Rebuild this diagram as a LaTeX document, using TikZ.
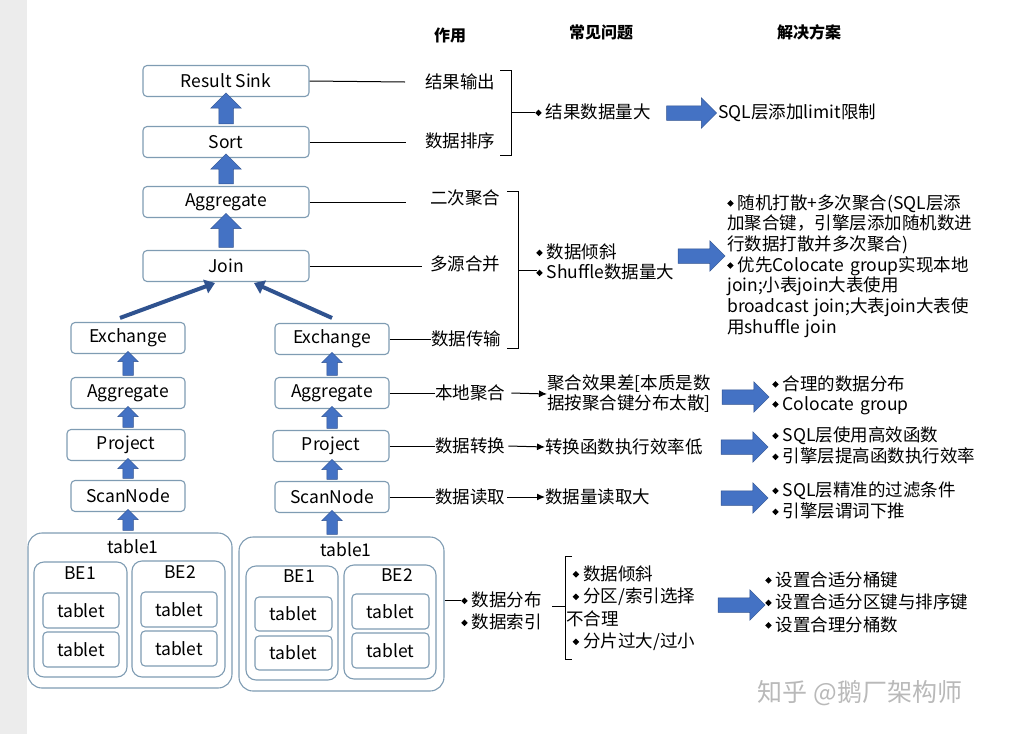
\documentclass[tikz,border=0pt]{standalone}
\usepackage{fontspec}
\setmainfont{Noto Sans CJK SC}
\usetikzlibrary{shapes.arrows,arrows.meta}
\definecolor{bx}{HTML}{7F9CB3}
\definecolor{ab}{HTML}{4472C4}
\definecolor{abd}{HTML}{2F528F}
\newcommand\dmd{\raisebox{2.5pt}{\rotatebox{45}{\rule{4.6pt}{4.6pt}}}\hspace{4pt}}
\begin{document}
\begin{tikzpicture}[x=1pt,y=-1pt,
  every node/.style={font=\fontsize{17.5}{21}\selectfont, inner sep=0pt},
  box/.style={draw=bx, line width=1.1pt, rounded corners=4pt, fill=white},
  op/.style={box, minimum width=#1, minimum height=31pt},
  op/.default=166pt,
  lab/.style={anchor=west},
  ln/.style={line width=1pt},
  barr/.style={single arrow, draw=abd, fill=ab, single arrow head extend=8pt, inner sep=0pt, line width=0.5pt},
  up/.style={barr, rotate=90},
  upsm/.style={barr, rotate=90, single arrow head extend=5pt},
  rt/.style={barr, minimum height=47pt},
  dia/.style={anchor=west, text width=#1, align=left},
  hd/.style={font=\fontsize{16}{20}\selectfont\bfseries}]
\useasboundingbox (0,0) rectangle (1010,734);
\fill[gray!15] (0,0) rectangle (27,734);
% headers
\node[hd] (h1) at (450,35) {作用};
\node[hd] (h2) at (601,32) {常见问题};
\node[hd] (h3) at (809,32) {解决方案};
% top chain
\node[op] (rs) at (226,81) {Result Sink};
\node[op] (so) at (226,142) {Sort};
\node[op] (ag) at (226,202) {Aggregate};
\node[op] (jo) at (226,266) {Join};
\node[up, minimum height=31pt] (u1) at (226,112) {\rule{0pt}{14pt}};
\node[up, minimum height=30pt] (u2) at (226,172.5) {\rule{0pt}{14pt}};
\node[up, minimum height=34pt] (u3) at (226,234) {\rule{0pt}{14pt}};
% left column
\node[op=114pt] (le) at (128,338) {Exchange};
\node[op=114pt] (la) at (128,393) {Aggregate};
\node[op=118pt] (lp) at (126,445) {Project};
\node[op=114pt] (ls) at (128,496) {ScanNode};
% right column
\node[op=114pt] (re) at (332,339) {Exchange};
\node[op=114pt] (ra) at (332,393) {Aggregate};
\node[op=116pt] (rp) at (331,446) {Project};
\node[op=114pt] (rs2) at (332,497) {ScanNode};
\foreach \x/\a/\b in {128/354/378, 128/409/430, 128/461/481, 128/512/533, 332/355/378, 332/409/431, 332/462/482, 332/513/537}{
  \node[upsm, minimum height={\b-\a}] at (\x,{(\a+\b)/2}) {\rule{0pt}{10pt}};
}
\draw[abd, line width=4pt, -{Triangle[width=14pt,length=10pt]}] (le.north) ++(-8,-4) -- (215,283);
\draw[abd, line width=4pt, -{Triangle[width=14pt,length=10pt]}] (re.north) ++(0,-5) -- (254,283);
% tables left
\node[box, rounded corners=14pt, minimum width=204pt, minimum height=155pt] (t1) at (130,610.5) {};
\node (t1l) at (133,547) {table1};
\node[box, rounded corners=10pt, minimum width=93pt, minimum height=115pt] (b1) at (80.5,619.5) {};
\node[box, rounded corners=10pt, minimum width=93pt, minimum height=116pt] (b2) at (178.5,619) {};
\node (b1l) at (80,573) {BE1};
\node (b2l) at (180,572) {BE2};
\node[box, minimum width=76pt, minimum height=35pt] (tl1) at (81,610.5) {tablet};
\node[box, minimum width=76pt, minimum height=35pt] (tl2) at (81,649.5) {tablet};
\node[box, minimum width=76pt, minimum height=35pt] (tl3) at (179,609.5) {tablet};
\node[box, minimum width=76pt, minimum height=35pt] (tl4) at (179,648.5) {tablet};
% tables right
\node[box, rounded corners=14pt, minimum width=205pt, minimum height=154pt] (t2) at (341.5,614) {};
\node (t2l) at (346,550) {table1};
\node[box, rounded corners=10pt, minimum width=92pt, minimum height=114pt] (b3) at (292,623) {};
\node[box, rounded corners=10pt, minimum width=92pt, minimum height=114pt] (b4) at (390,622) {};
\node (b3l) at (299,576) {BE1};
\node (b4l) at (397,575) {BE2};
\node[box, minimum width=77pt, minimum height=34pt] (tl5) at (293.5,614) {tablet};
\node[box, minimum width=77pt, minimum height=34pt] (tl6) at (293.5,653) {tablet};
\node[box, minimum width=77pt, minimum height=35pt] (tl7) at (390.5,611.5) {tablet};
\node[box, minimum width=77pt, minimum height=35pt] (tl8) at (390.5,650.5) {tablet};
% role labels
\node[lab] (r1) at (425,82) {结果输出};
\node[lab] (r2) at (425,141) {数据排序};
\node[lab] (r3) at (430,198) {二次聚合};
\node[lab] (r4) at (430,264) {多源合并};
\node[lab] (r5) at (431,339) {数据传输};
\draw[ln] (rs.east) -- (405,82);
\draw[ln] (so.east) -- (406,142);
\draw[ln] (ag.east) -- (406,202);
\draw[ln] (jo.east) -- (422,266);
\draw[ln] (re.east) -- (r5.west);
% bracket 1
\draw[ln] (500,70) -- (511,70) -- (511,155) -- (500,155);
\coordinate (c1) at (511,112);
\node[lab] (p1) at (535,112) {\dmd 结果数据量大};
\draw[ln] (c1) -- (p1.west);
\node[rt, minimum height=50pt] (a1) at (688,113) {\rule{0pt}{14pt}};
\node[lab] (s1) at (718,113) {SQL层添加limit限制};
% bracket 2
\draw[ln] (507,191) -- (518,191) -- (518,348) -- (507,348);
\coordinate (c2) at (518,270);
\node[dia=150pt, font=\fontsize{17.5}{20}\selectfont] (p2) at (536,262) {\dmd 数据倾斜\\\dmd Shuffle数据量大};
\draw[ln] (c2) -- (537,270);
\node[rt] (a2) at (698,256) {\rule{0pt}{14pt}};
\node[dia=270pt, font=\fontsize{17.5}{20.7}\selectfont] (s2) at (727,266) {\dmd 随机打散+多次聚合(SQL层添\\加聚合键，引擎层添加随机数进\\行数据打散并多次聚合)\\\dmd 优先Colocate group实现本地\\join;小表join大表使用\\broadcast join;大表join大表使\\用shuffle join};
% local aggregate row
\node[lab] (r6) at (435,393) {本地聚合};
\draw[ln] (ra.east) -- (r6.west);
\node[dia=180pt, font=\fontsize{17.5}{20}\selectfont] (q6) at (547,394) {聚合效果差[本质是数\\据按聚合键分布太散]};
\draw[ln, -{Latex[length=8pt,width=7pt]}] (r6.east) ++(6,0) -- (q6.west);
\node[rt] (a6) at (742,397) {\rule{0pt}{14pt}};
\node[dia=220pt, font=\fontsize{17.5}{20}\selectfont] (s6) at (772,395) {\dmd 合理的数据分布\\\dmd Colocate group};
% project row
\node[lab] (r7) at (435,446) {数据转换};
\draw[ln] (rp.east) -- (r7.west);
\node[lab] (q7) at (545,447) {转换函数执行效率低};
\draw[ln, -{Latex[length=8pt,width=7pt]}] (r7.east) ++(3,0) -- (q7.west);
\node[rt] (a7) at (741,447) {\rule{0pt}{14pt}};
\node[dia=235pt, font=\fontsize{17.5}{21}\selectfont] (s7) at (772,445.5) {\dmd SQL层使用高效函数\\\dmd 引擎层提高函数执行效率};
% scan row
\node[lab] (r8) at (435,497) {数据读取};
\draw[ln] (rs2.east) -- (r8.west);
\node[lab] (q8) at (545,497) {数据量读取大};
\draw[ln, -{Latex[length=8pt,width=7pt]}] (r8.east) ++(2,0) -- (q8.west);
\node[rt] (a8) at (741,498) {\rule{0pt}{14pt}};
\node[dia=235pt, font=\fontsize{17.5}{21}\selectfont] (s8) at (772,500.5) {\dmd SQL层精准的过滤条件\\\dmd 引擎层谓词下推};
% storage row
\node[dia=100pt, font=\fontsize{17.5}{22}\selectfont] (r9) at (461,611) {\dmd 数据分布\\\dmd 数据索引};
\draw[ln] (t2.east |- 0,600) -- (r9.west |- 0,600);
\draw[ln] (572,556) -- (565,556) -- (565,659) -- (572,659);
\draw[ln] (552,606) -- (565,606);
\node[dia=160pt, font=\fontsize{17.5}{22.5}\selectfont] (q9) at (566,608) {\hspace*{17pt}\llap{\dmd}数据倾斜\\\hspace*{17pt}\llap{\dmd}分区/索引选择\\不合理\\\hspace*{17pt}\llap{\dmd}分片过大/过小};
\node[rt] (a9) at (738,605) {\rule{0pt}{14pt}};
\node[dia=240pt, font=\fontsize{17.5}{22.5}\selectfont] (s9) at (765,602) {\dmd 设置合适分桶键\\\dmd 设置合适分区键与排序键\\\dmd 设置合理分桶数};
% watermark
\node[text=gray!55, font=\fontsize{25}{28}\selectfont] (wm) at (860,693) {知乎 @鹅厂架构师};
\end{tikzpicture}
\end{document}
